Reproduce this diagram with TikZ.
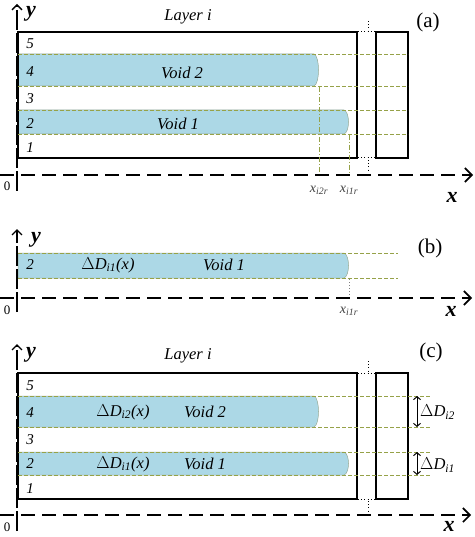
\documentclass[tikz,border=0pt]{standalone}
\usepackage{fontspec}
\setmainfont{Liberation Serif}
\usetikzlibrary{arrows.meta}
\definecolor{voidblue}{RGB}{172,216,230}
\definecolor{lineg}{RGB}{150,162,72}
\definecolor{voidedge}{RGB}{150,170,150}
\tikzset{
  axisx/.style={line width=2.2pt, dash pattern=on 14pt off 7pt,
    -{Straight Barb[length=7pt,width=14pt,line width=1.6pt]}},
  axisy/.style={line width=2pt, dash pattern=on 20pt off 3pt,
    -{Straight Barb[length=5pt,width=10pt,line width=1.4pt]}},
  layerbox/.style={line width=1.1pt},
  gdash/.style={lineg, line width=0.8pt, dash pattern=on 4pt off 2pt},
  gdashdot/.style={lineg, line width=0.8pt, dash pattern=on 5pt off 2pt on 1pt off 2pt},
  dotline/.style={line width=1pt, dash pattern=on 1pt off 2.2pt},
  greydot/.style={gray, line width=0.6pt, dash pattern=on 1pt off 2pt},
  voidfill/.style={fill=voidblue, draw=voidedge, line width=0.5pt},
  num/.style={font=\fontsize{15}{15}\selectfont\itshape, inner sep=0pt},
  lbl/.style={font=\fontsize{16.5}{16.5}\selectfont\itshape, inner sep=0pt},
  sub/.style={font=\fontsize{14}{14}\selectfont, inner sep=0pt},
  axlbl/.style={font=\fontsize{22}{22}\selectfont\bfseries\itshape, inner sep=0pt},
  panel/.style={font=\fontsize{21}{21}\selectfont, inner sep=0pt},
  zero/.style={font=\fontsize{13}{13}\selectfont, inner sep=0pt},
  dbl/.style={line width=1pt, {Straight Barb[length=3pt,width=7pt]}-{Straight Barb[length=3pt,width=7pt]}}
}
\begin{document}
\begin{tikzpicture}[x=1pt,y=-1pt]
\useasboundingbox (0,0) rectangle (474,537);

% ================= panel (a) =================
\path[voidfill] (18,54) -- (314,54) .. controls (320,56) and (320,84) .. (314,86) -- (18,86) -- cycle;
\path[voidfill] (18,110) -- (344,110) .. controls (350,112) and (350,132) .. (344,134) -- (18,134) -- cycle;
\draw[layerbox] (18,32) rectangle (357,158);
\draw[layerbox] (376,32) rectangle (408,158);
\foreach \yy in {54,86,110,134} \draw[gdash] (18,\yy) -- (408,\yy);
\draw[dotline] (358,32) -- (375,32);
\draw[dotline] (358,158) -- (375,158);
\draw[dotline] (368,21) -- (368,31);
\draw[dotline] (368,160) -- (368,171);
\coordinate (ai2top) at (319,87);
\coordinate (ai2bot) at (319,174);
\coordinate (ai1top) at (349,135);
\coordinate (ai1bot) at (349,174);
\draw[gdashdot] (ai2top) -- (ai2bot);
\draw[gdashdot] (ai1top) -- (ai1bot);
\coordinate (ax0) at (0,175);
\coordinate (ax1) at (473,175);
\draw[axisx] (ax0) -- (ax1);
\coordinate (ay0) at (17,191);
\coordinate (ay1) at (17,4);
\draw[axisy] (ay0) -- (ay1);
\node[axlbl] (ay) at (31,14) {y};
\node[axlbl] (ax) at (452,197) {x};
\node[zero] (a0) at (7,186) {0};
\node[panel] (apan) at (428,22) {(a)};
\node[lbl] (alayer) at (188,17) {Layer i};
\node[lbl] (avoid2) at (182,73) {Void 2};
\node[lbl] (avoid1) at (178,124) {Void 1};
\node[num] (a5) at (30,44) {5};
\node[num] (a4) at (30,72) {4};
\node[num] (a3) at (30,99) {3};
\node[num] (a2) at (30,124) {2};
\node[num] (a1) at (30,148) {1};
\node[sub, black!75] (axi2) at (319,190) {\textit{x}\textsubscript{\textit{i2r}}};
\node[sub, black!75] (axi1) at (349,190) {\textit{x}\textsubscript{\textit{i1r}}};

% ================= panel (b) =================
\path[voidfill] (18,253) -- (344,253) .. controls (350,255) and (350,276) .. (344,278) -- (18,278) -- cycle;
\foreach \yy in {253,278} \draw[gdash] (18,\yy) -- (398,\yy);
\coordinate (bi1top) at (349,279);
\coordinate (bi1bot) at (349,297);
\draw[greydot] (bi1top) -- (bi1bot);
\coordinate (bx0) at (0,298);
\coordinate (bx1) at (472,298);
\draw[axisx] (bx0) -- (bx1);
\coordinate (by0) at (17,312);
\coordinate (by1) at (17,229);
\draw[axisy] (by0) -- (by1);
\node[axlbl] (by) at (36,240) {y};
\node[axlbl] (bx) at (451,311) {x};
\node[zero] (b0) at (7,310) {0};
\node[panel] (bpan) at (430,248) {(b)};
\node[num] (b2) at (30,265) {2};
\node[lbl] (bdd) at (108,265) {$\Delta$\textit{D}\textsubscript{\textit{i1}}(\textit{x})};
\node[lbl] (bvoid1) at (224,265) {Void 1};
\node[sub, black!75] (bxi1) at (349,311) {\textit{x}\textsubscript{\textit{i1r}}};

% ================= panel (c) =================
\path[voidfill] (18,396) -- (314,396) .. controls (320,398) and (320,425) .. (314,427) -- (18,427) -- cycle;
\path[voidfill] (18,452) -- (344,452) .. controls (350,454) and (350,473) .. (344,475) -- (18,475) -- cycle;
\draw[layerbox] (18,373) rectangle (357,499);
\draw[layerbox] (376,373) rectangle (408,499);
\foreach \yy in {396,427,452,475} \draw[gdash] (18,\yy) -- (430,\yy);
\draw[dotline] (358,373) -- (375,373);
\draw[dotline] (358,499) -- (375,499);
\draw[dotline] (368,361) -- (368,372);
\draw[dotline] (368,501) -- (368,512);
\coordinate (c2top) at (417,396);
\coordinate (c2bot) at (417,427);
\coordinate (c1top) at (417,452);
\coordinate (c1bot) at (417,475);
\draw[dbl] (c2top) -- (c2bot);
\draw[dbl] (c1top) -- (c1bot);
\coordinate (cx0) at (0,515);
\coordinate (cx1) at (471,515);
\draw[axisx] (cx0) -- (cx1);
\coordinate (cy0) at (17,531);
\coordinate (cy1) at (17,344);
\draw[axisy] (cy0) -- (cy1);
\node[axlbl] (cy) at (31,355) {y};
\node[axlbl] (cx) at (449,526) {x};
\node[zero] (c0) at (7,527) {0};
\node[panel] (cpan) at (431,352) {(c)};
\node[lbl] (clayer) at (188,356) {Layer i};
\node[lbl] (cdd2) at (123,412) {$\Delta$\textit{D}\textsubscript{\textit{i2}}(\textit{x})};
\node[lbl] (cvoid2) at (205,412) {Void 2};
\node[lbl] (cdd1) at (123,464) {$\Delta$\textit{D}\textsubscript{\textit{i1}}(\textit{x})};
\node[lbl] (cvoid1) at (205,464) {Void 1};
\node[num] (c5) at (30,386) {5};
\node[num] (c4) at (30,413) {4};
\node[num] (c3) at (30,440) {3};
\node[num] (c2) at (30,464) {2};
\node[num] (c1) at (30,489) {1};
\node[lbl, anchor=west] (cD2) at (420,412) {$\Delta$\textit{D}\textsubscript{\textit{i2}}};
\node[lbl, anchor=west] (cD1) at (420,465) {$\Delta$\textit{D}\textsubscript{\textit{i1}}};
\end{tikzpicture}
\end{document}
